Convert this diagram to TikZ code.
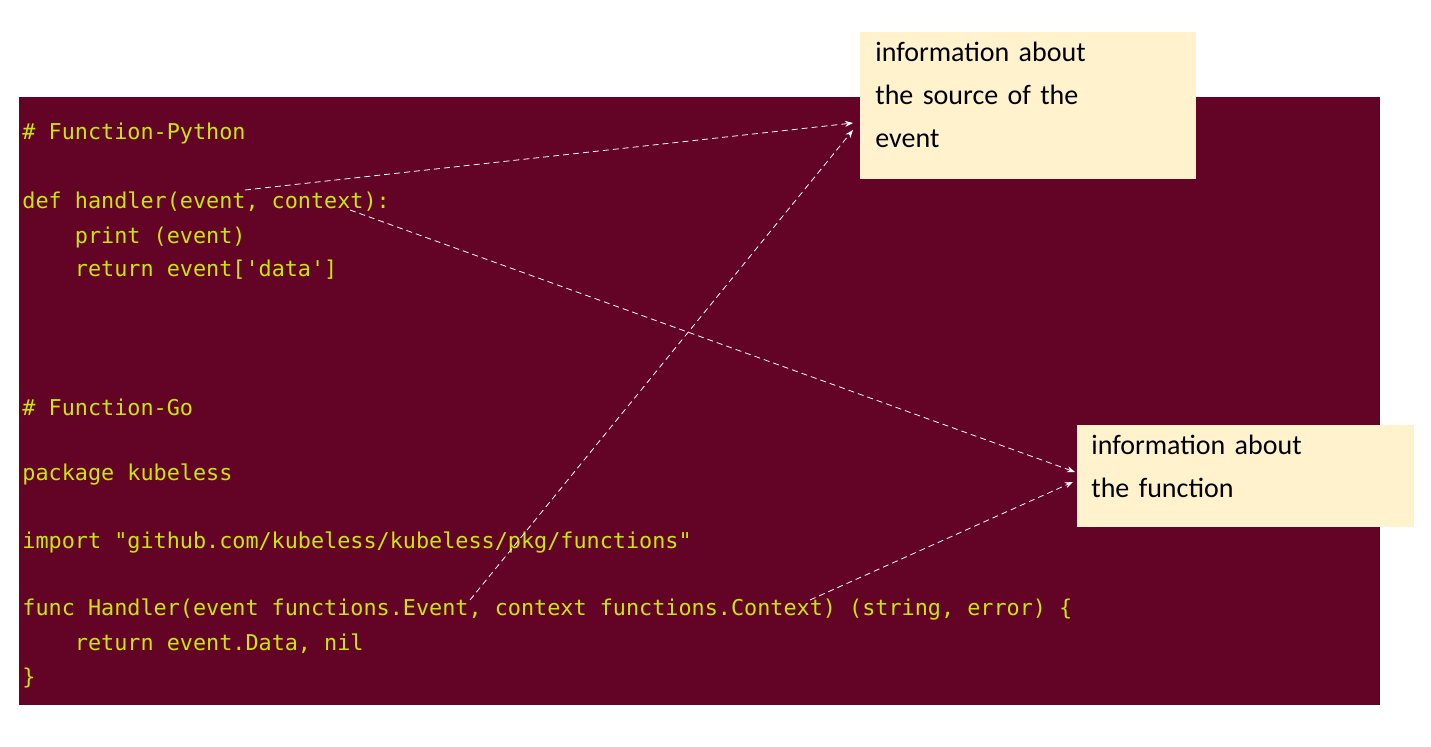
\documentclass[tikz,border=0pt]{standalone}
\usepackage{fontspec}
\usetikzlibrary{arrows.meta}
\setmainfont{Carlito}
\newfontfamily\codefont{DejaVu Sans Mono}
\definecolor{bgred}{HTML}{630427}
\definecolor{codeg}{HTML}{C8E60A}
\definecolor{note}{HTML}{FFF2CC}
\begin{document}
\begin{tikzpicture}[x=0.5pt,y=-0.5pt,
  code/.style={anchor=west,inner sep=0pt,text=codeg,font=\codefont\fontsize{10.9}{12}\selectfont},
  notebox/.style={fill=note,anchor=north west,align=left,text width=150pt,inner sep=0pt,font=\fontsize{14}{21.5}\selectfont},
  arr/.style={white,densely dashed,line width=0.4pt,-{Stealth[length=4pt]}}]
\useasboundingbox (0,0) rectangle (1431,747);
\fill[bgred] (19,97) rectangle (1380,705);
\node[code] (l1) at (22,133) {\# Function-Python};
\node[code] (l2) at (22,202) {def handler(event, context):};
\node[code] (l3) at (22,237) {\ \ \ \ print (event)};
\node[code] (l4) at (22,270) {\ \ \ \ return event['data']};
\node[code] (l5) at (22,407) {\# Function-Go};
\node[code] (l6) at (22,475) {package kubeless};
\node[code] (l7) at (22,543) {import "github.com/kubeless/kubeless/pkg/functions"};
\node[code] (l8) at (22,610) {func Handler(event functions.Event, context functions.Context) (string, error) \{};
\node[code] (l9) at (22,644) {\ \ \ \ return event.Data, nil};
\node[code] (l10) at (22,678) {\}};
\fill[note] (860,32) rectangle (1196,179);
\node[notebox] (n1) at (875,42) {information about\\the source of the\\event};
\fill[note] (1077,425) rectangle (1414,527);
\node[notebox] (n2) at (1091,435) {information about\\the function};
\coordinate (a1) at (245,190);
\coordinate (a2) at (350,210);
\coordinate (a3) at (470,600);
\coordinate (a4) at (810,600);
\coordinate (t1) at (853,123);
\coordinate (t2) at (853,130);
\coordinate (t3) at (1075,472);
\coordinate (t4) at (1073,482);
\draw[arr] (a1) -- (t1);
\draw[arr] (a3) -- (t2);
\draw[arr] (a2) -- (t3);
\draw[arr] (a4) -- (t4);
\end{tikzpicture}
\end{document}
